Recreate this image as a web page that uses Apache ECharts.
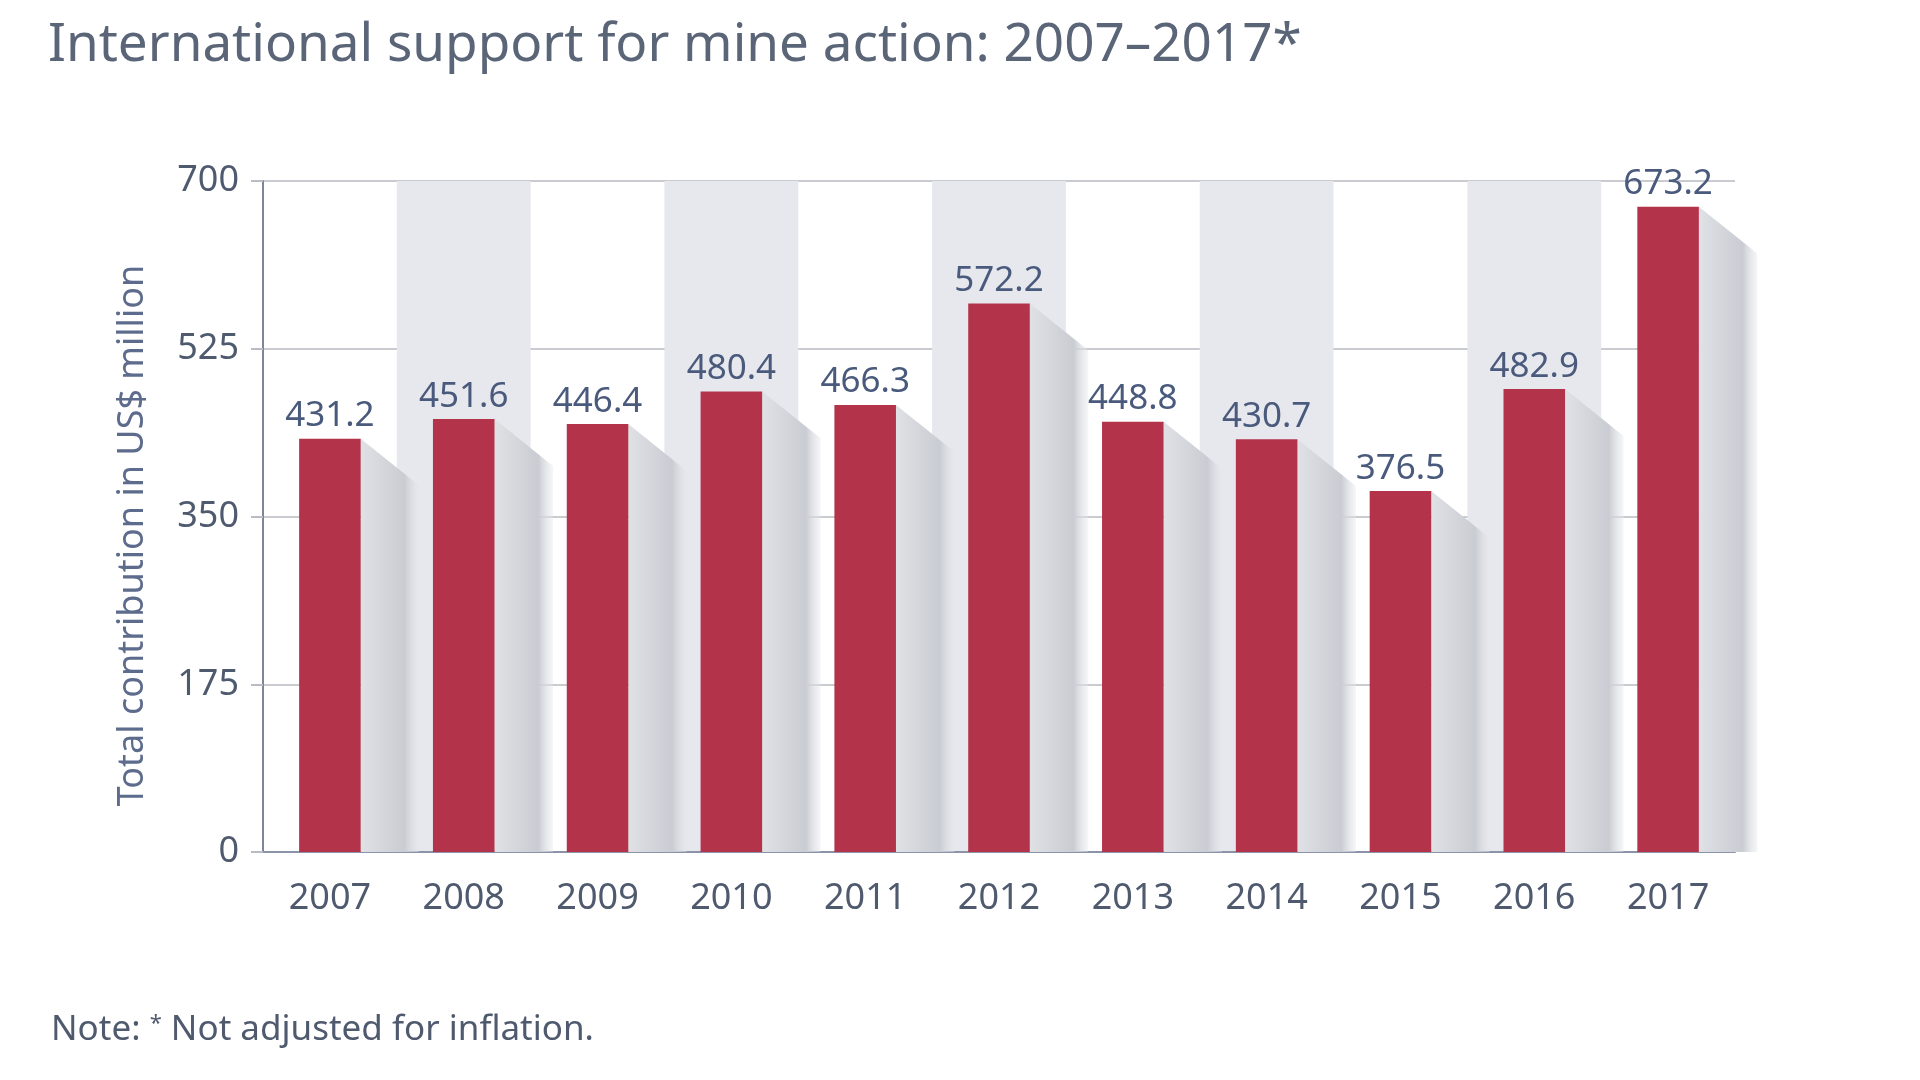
<!DOCTYPE html>
<html>
<head>
<meta charset="utf-8">
<title>International support for mine action</title>
<script src="https://cdn.jsdelivr.net/npm/echarts@6/dist/echarts.min.js"></script>
<style>
  html, body { margin: 0; padding: 0; background: #ffffff; }
  #chart { width: 1920px; height: 1080px; }
</style>
</head>
<body>
<div id="chart"></div>
<script>
// Data
const years = ["2007", "2008", "2009", "2010", "2011", "2012", "2013", "2014", "2015", "2016", "2017"];
const contributions = [431.2, 451.6, 446.4, 480.4, 466.3, 572.2, 448.8, 430.7, 376.5, 482.9, 673.2];
const yTicks = [0, 175, 350, 525, 700];

const font = "Noto Sans";
const textColor = "#4f5a6e";
const labelColor = "#4a5a7c";
const barColor = "#b3334b";
const barWidthRatio = 0.46;

// Drop shadow to the right of each bar, built from the axis scales
function renderShadow(params, api) {
  const top = api.coord([api.value(0), api.value(1)]);
  const base = api.coord([api.value(0), 0]);
  const bw = api.size([1, 0])[0] * barWidthRatio;
  const x0 = top[0] + bw / 2;
  const sw = bw * 0.95;
  const drop = Math.min(sw * 0.8, base[1] - top[1]);
  return {
    type: "polygon",
    shape: {
      points: [
        [x0, top[1]],
        [x0 + sw, top[1] + drop],
        [x0 + sw, base[1]],
        [x0, base[1]],
      ],
    },
    style: {
      fill: new echarts.graphic.LinearGradient(0, 0, 1, 0, [
        { offset: 0, color: "#dfe1e5" },
        { offset: 0.75, color: "#c9ccd2" },
        { offset: 1, color: "rgba(230,232,236,0.4)" },
      ]),
    },
  };
}

const chart = echarts.init(document.getElementById("chart"), null, { renderer: "canvas" });

chart.setOption({
  backgroundColor: "#ffffff",
  animation: false,
  textStyle: { fontFamily: font },
  title: [
    {
      text: "International support for mine action: 2007\u20132017*",
      left: 43,
      top: 14,
      textStyle: { fontFamily: font, fontSize: 53, fontWeight: "normal", color: "#5b6578" },
    },
    {
      text: "Note: {ast|*} Not adjusted for inflation.",
      left: 46,
      top: 1008,
      textStyle: {
        fontFamily: font,
        fontSize: 35,
        fontWeight: "normal",
        color: textColor,
        rich: { ast: { fontSize: 22, verticalAlign: "top", color: textColor, padding: [0, 0, 12, 0] } },
      },
    },
  ],
  grid: { left: 263, right: 185, top: 181, bottom: 228 },
  xAxis: {
    type: "category",
    data: years,
    axisLine: { show: true, lineStyle: { color: "#8a93a8", width: 2 } },
    axisTick: { show: false },
    axisLabel: { color: textColor, fontSize: 36, margin: 29, fontFamily: font },
    splitArea: { show: true, areaStyle: { color: ["rgba(255,255,255,0)", "#e7e8ed"] } },
  },
  yAxis: {
    type: "value",
    min: yTicks[0],
    max: yTicks[yTicks.length - 1],
    interval: 175,
    name: "Total contribution in US$ million",
    nameLocation: "middle",
    nameRotate: 90,
    nameGap: 112,
    nameTextStyle: { color: "#5d6b8c", fontSize: 36, fontFamily: font, padding: [0, 38, 0, 0] },
    axisLine: { show: true, lineStyle: { color: "#7c869b", width: 2 } },
    axisTick: { show: true, length: 12, lineStyle: { color: "#b9bcc4", width: 2 } },
    axisLabel: { color: textColor, fontSize: 36, margin: 24, fontFamily: font },
    splitLine: { show: true, lineStyle: { color: "#c9cbd1", width: 2 } },
  },
  series: [
    {
      type: "custom",
      renderItem: renderShadow,
      data: years.map((y, i) => [i, contributions[i]]),
      encode: { x: 0, y: 1 },
      z: 1,
      silent: true,
    },
    {
      type: "bar",
      data: contributions,
      barWidth: barWidthRatio * 100 + "%",
      z: 3,
      itemStyle: { color: barColor },
      label: {
        show: true,
        position: "top",
        distance: 5,
        color: labelColor,
        fontSize: 35,
        fontFamily: font,
        formatter: (p) => p.value.toFixed(1),
      },
    },
  ],
});
</script>
</body>
</html>
